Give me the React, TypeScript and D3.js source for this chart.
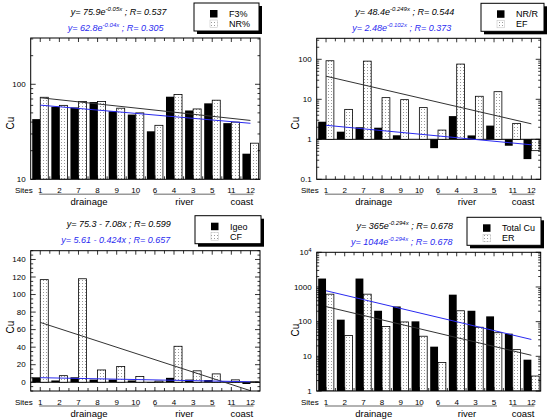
import React, { useEffect, useRef } from 'react';
import * as d3 from 'd3';

// sampling sites, in the order they are plotted
const sites = ['1', '2', '7', '8', '9', '10', '6', '4', '3', '5', '11', '12'];
const groupNames = ['drainage', 'river', 'coast'];
const groupFirst = [0, 6, 10];
const groupLast = [5, 9, 11];

// panel 1
const f3Pct = [43, 58, 57, 65, 52, 48, 32, 74, 53, 63, 39, 18.6];
const nrPct = [73, 60, 66, 66, 56, 50, 37, 78, 55, 68, 40, 24];
// panel 2
const nrR = [2.75, 1.55, 2.0, 1.95, 1.26, 1.0, 0.6, 3.8, 1.25, 2.2, 0.69, 0.32];
const ef = [92, 5.6, 90, 11, 9.8, 6.2, 1.7, 76, 11.9, 15.5, 2.5, 0.52];
// panel 3
const igeo = [5.6, 2, 5.6, 3, 3, 2, -0.7, 5, 3, 2.5, 0.4, -2];
const cf = [117, 7.5, 118, 14, 18, 6.5, 1.3, 41, 13, 9.5, 2.7, 0.5];
// panel 4
const totalCu = [1750, 114, 1750, 206, 274, 102, 19, 600, 206, 142, 45, 8];
const er = [620, 40, 620, 72, 98, 38, 6.6, 206, 69, 48, 15.6, 2.7];

// fitted trend lines (coefficient a, b) as printed above each panel
const fitBlack = [[75.9, -0.05], [48.4, -0.249], [75.3, -7.08], [365, -0.294]];
const fitBlue = [[62.8, -0.04], [2.48, -0.102], [5.61, -0.424], [1044, -0.294]];
const fitKind = ['exp', 'exp', 'lin', 'exp'];

// equation text: [before superscript, superscript, after]
const eqBlack = [
    ['y= 75.9e', '-0.05x', ' ; R= 0.537'],
    ['y= 48.4e', '-0.249x', ' ; R= 0.544'],
    ['y= 75.3 - 7.08x ; R= 0.599', '', ''],
    ['y= 365e', '-0.294x', ' ; R= 0.678'],
];
const eqBlue = [
    ['y= 62.8e', '-0.04x', ' ; R= 0.305'],
    ['y= 2.48e', '-0.102x', ' ; R= 0.373'],
    ['y= 5.61 - 0.424x ; R= 0.657', '', ''],
    ['y= 1044e', '-0.294x', ' ; R= 0.678'],
];
const legendNames = [['F3%', 'NR%'], ['NR/R', 'EF'], ['Igeo', 'CF'], ['Total Cu', 'ER']];
const seriesA = [f3Pct, nrR, igeo, totalCu];
const seriesB = [nrPct, ef, cf, er];

// y axes
const yDomains = [[10, 307], [0.1, 335], [-10, 150], [1, 10000]];
const yBase = [10, 1, 0, 1];
const yMajor = [[10, 100], [0.1, 1, 10, 100], [0, 20, 40, 60, 80, 100, 120, 140], [1, 10, 100, 1000, 10000]];
const yMajorText = [['10', '100'], ['0.1', '1', '10', '100'], ['0', '20', '40', '60', '80', '100', '120', '140'], ['1', '10', '100', '1000', '10^4']];

// layout of each panel (plot area, legend box, axis title)
const layout = [
    { x0: 30.7, x1: 260, y0: 38, y1: 179.3, lx: 194, lw: 65, cuX: 10, cuY: 123 },
    { x0: 316.7, x1: 540.7, y0: 38.3, y1: 179.3, lx: 481, lw: 63, cuX: 295, cuY: 123 },
    { x0: 30.7, x1: 260, y0: 250.7, y1: 391, lx: 195, lw: 66, cuX: 10, cuY: 327 },
    { x0: 316.7, x1: 540.7, y0: 252.3, y1: 391, lx: 467, lw: 74, cuX: 295, cuY: 330 },
];

const FONT = 'Arial, "Liberation Sans", Helvetica, sans-serif';
const BLUE = '#2a2af0';

const App: React.FC = () => {
    const svgRef = useRef<SVGSVGElement>(null);

    useEffect(() => {
        if (!svgRef.current) return;
        const svg = d3.select(svgRef.current);
        svg.selectAll('*').remove();

        const defs = svg.append('defs');
        const pat = defs.append('pattern')
            .attr('id', 'dots')
            .attr('width', 3)
            .attr('height', 3)
            .attr('patternUnits', 'userSpaceOnUse');
        pat.append('rect').attr('width', 3).attr('height', 3).attr('fill', '#fff');
        pat.append('rect').attr('x', 1).attr('y', 1).attr('width', 1).attr('height', 1).attr('fill', '#9a9a9a');

        layout.forEach((L, pi) => {
            const g = svg.append('g').attr('font-family', FONT);

            defs.append('clipPath').attr('id', `clip${pi}`)
                .append('rect')
                .attr('x', L.x0).attr('y', L.y0)
                .attr('width', L.x1 - L.x0).attr('height', L.y1 - L.y0);

            const x = d3.scaleBand<string>()
                .domain(sites)
                .range([L.x0, L.x1])
                .paddingInner(0.16)
                .paddingOuter(0.08);
            const bw = x.bandwidth();
            const xc = (i: number) => (x(sites[i]) as number) + bw / 2;

            const isLog = fitKind[pi] === 'exp';
            const y: any = isLog
                ? d3.scaleLog().domain(yDomains[pi]).range([L.y1, L.y0])
                : d3.scaleLinear().domain(yDomains[pi]).range([L.y1, L.y0]);
            const yb = y(yBase[pi]);

            const plot = g.append('g').attr('clip-path', `url(#clip${pi})`);

            // baseline
            if (pi === 1 || pi === 2) {
                plot.append('line')
                    .attr('x1', L.x0).attr('x2', L.x1)
                    .attr('y1', yb).attr('y2', yb)
                    .attr('stroke', '#000').attr('stroke-width', 1);
            }

            // bars
            sites.forEach((s, i) => {
                const xs = x(s) as number;
                const ya = y(seriesA[pi][i]);
                plot.append('rect')
                    .attr('x', xs)
                    .attr('y', Math.min(ya, yb))
                    .attr('width', bw / 2)
                    .attr('height', Math.abs(ya - yb))
                    .attr('fill', '#000');
                const ybv = y(seriesB[pi][i]);
                plot.append('rect')
                    .attr('x', xs + bw / 2)
                    .attr('y', Math.min(ybv, yb))
                    .attr('width', bw / 2)
                    .attr('height', Math.abs(ybv - yb))
                    .attr('fill', 'url(#dots)')
                    .attr('stroke', '#000')
                    .attr('stroke-width', 0.8);
            });

            // trend lines
            const fitVal = (c: number[], t: number) =>
                isLog ? c[0] * Math.exp(c[1] * t) : c[0] + c[1] * t;
            [[fitBlack[pi], '#333'], [fitBlue[pi], BLUE]].forEach(([c, col]) => {
                plot.append('line')
                    .attr('x1', xc(0)).attr('y1', y(fitVal(c as number[], 1)))
                    .attr('x2', xc(11)).attr('y2', y(fitVal(c as number[], 12)))
                    .attr('stroke', col as string)
                    .attr('stroke-width', 1);
            });

            // frame
            g.append('rect')
                .attr('x', L.x0).attr('y', L.y0)
                .attr('width', L.x1 - L.x0).attr('height', L.y1 - L.y0)
                .attr('fill', 'none').attr('stroke', '#000').attr('stroke-width', 1);

            // y ticks (left and right, inward)
            const [dMin, dMax] = yDomains[pi];
            const minor: number[] = [];
            if (isLog) {
                for (let e = Math.floor(Math.log10(dMin)); e <= Math.ceil(Math.log10(dMax)); e++) {
                    for (let k = 2; k <= 9; k++) {
                        const v = k * Math.pow(10, e);
                        if (v > dMin && v < dMax) minor.push(v);
                    }
                }
            } else {
                for (let v = dMin; v <= dMax; v += 5) if (v % 20 !== 0) minor.push(v);
            }
            const tick = (v: number, len: number) => {
                const yy = y(v);
                g.append('line').attr('x1', L.x0).attr('x2', L.x0 + len)
                    .attr('y1', yy).attr('y2', yy).attr('stroke', '#000').attr('stroke-width', 0.8);
                g.append('line').attr('x1', L.x1).attr('x2', L.x1 - len)
                    .attr('y1', yy).attr('y2', yy).attr('stroke', '#000').attr('stroke-width', 0.8);
            };
            minor.forEach(v => tick(v, 2.5));
            yMajor[pi].forEach((v, k) => {
                tick(v, 5);
                const label = yMajorText[pi][k];
                const t = g.append('text')
                    .attr('x', L.x0 - 5)
                    .attr('y', y(v))
                    .attr('dy', '0.35em')
                    .attr('text-anchor', 'end')
                    .attr('font-size', '8px');
                if (label === '10^4') {
                    t.append('tspan').text('10');
                    t.append('tspan').attr('dy', '-0.5em').attr('font-size', '6px').text('4');
                } else {
                    t.text(label);
                }
            });

            // x ticks (top and bottom, half-group spacing)
            const step = (L.x1 - L.x0) / sites.length;
            for (let i = 1; i < sites.length * 2; i++) {
                const xx = L.x0 + (i * step) / 2;
                const len = i % 2 === 1 ? 4 : 3;
                g.append('line').attr('x1', xx).attr('x2', xx).attr('y1', L.y0).attr('y2', L.y0 + len)
                    .attr('stroke', '#000').attr('stroke-width', 0.8);
                g.append('line').attr('x1', xx).attr('x2', xx).attr('y1', L.y1).attr('y2', L.y1 - len)
                    .attr('stroke', '#000').attr('stroke-width', 0.8);
            }

            // site labels
            g.append('text')
                .attr('x', L.x0 + 2).attr('y', L.y1 + 13.5)
                .attr('text-anchor', 'end').attr('font-size', '8px')
                .text('Sites');
            sites.forEach((s, i) => {
                g.append('text')
                    .attr('x', xc(i)).attr('y', L.y1 + 13.5)
                    .attr('text-anchor', 'middle').attr('font-size', '8px')
                    .text(s);
            });

            // group underlines and names
            groupNames.forEach((name, k) => {
                const a = xc(groupFirst[k]) - 1;
                const b = xc(groupLast[k]) + 3;
                g.append('line')
                    .attr('x1', a).attr('x2', b)
                    .attr('y1', L.y1 + 15).attr('y2', L.y1 + 15)
                    .attr('stroke', '#999').attr('stroke-width', 1.5);
                g.append('text')
                    .attr('x', (a + b) / 2).attr('y', L.y1 + 25.5)
                    .attr('text-anchor', 'middle').attr('font-size', '9.5px')
                    .text(name);
            });

            // axis title
            g.append('text')
                .attr('transform', `translate(${L.cuX + 3.5}, ${L.cuY}) rotate(-90)`)
                .attr('text-anchor', 'middle')
                .attr('font-size', '10px')
                .text('Cu');

            // equations
            const eq = (parts: string[], yy: number, col: string, cx: number) => {
                const t = g.append('text')
                    .attr('x', cx).attr('y', yy)
                    .attr('text-anchor', 'middle')
                    .attr('font-size', '9px')
                    .attr('font-style', 'italic')
                    .attr('fill', col);
                t.append('tspan').text(parts[0]);
                if (parts[1]) {
                    t.append('tspan').attr('dy', -3.5).attr('font-size', '6px').text(parts[1]);
                    t.append('tspan').attr('dy', 3.5).text(parts[2]);
                }
            };
            eq(eqBlack[pi], L.y0 - 23.5, '#000', L.x0 + 88);
            eq(eqBlue[pi], L.y0 - 7.5, BLUE, L.x0 + 85);

            // legend box with drop shadow
            const by = L.y0 - 35;
            g.append('rect').attr('x', L.lx + 3).attr('y', by + 3)
                .attr('width', L.lw).attr('height', 28).attr('fill', '#000');
            g.append('rect').attr('x', L.lx).attr('y', by)
                .attr('width', L.lw).attr('height', 28)
                .attr('fill', '#fff').attr('stroke', '#000').attr('stroke-width', 1);
            legendNames[pi].forEach((name, k) => {
                g.append('rect')
                    .attr('x', L.lx + 16).attr('y', by + 7 + k * 10)
                    .attr('width', 7.5).attr('height', 7.5)
                    .attr('fill', k === 0 ? '#000' : 'url(#dots)')
                    .attr('stroke', k === 0 ? 'none' : '#bbb')
                    .attr('stroke-width', 0.5);
                g.append('text')
                    .attr('x', L.lx + 35).attr('y', by + 14 + k * 10)
                    .attr('font-size', '9px')
                    .text(name);
            });
        });
    }, []);

    return (
        <svg
            ref={svgRef}
            width="550"
            height="420"
            style={{ position: 'absolute', left: 0, top: 0, background: '#fff' }}
        ></svg>
    );
};

export default App;
